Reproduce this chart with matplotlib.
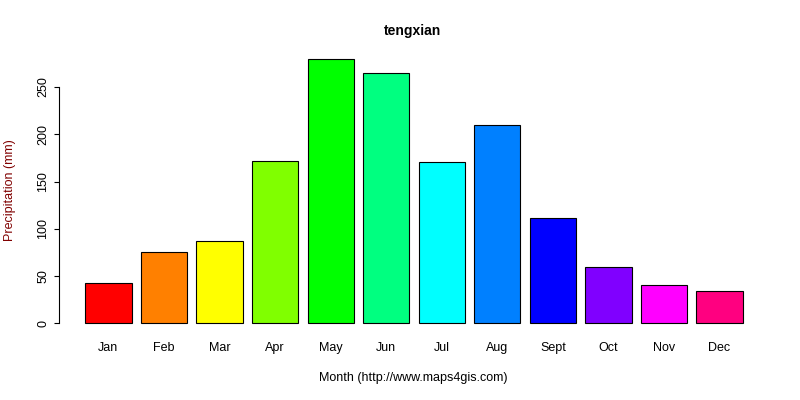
import matplotlib
matplotlib.use("Agg")
import matplotlib.pyplot as plt

plt.rcParams["font.family"] = ["Liberation Sans", "DejaVu Sans"]

months = ["Jan", "Feb", "Mar", "Apr", "May", "Jun", "Jul", "Aug", "Sept", "Oct", "Nov", "Dec"]
precip = [43, 75, 87, 172, 280, 265, 171, 210, 111, 60, 41, 34]
colors = ["#FF0000", "#FF8000", "#FFFF00", "#80FF00", "#00FF00", "#00FF80",
          "#00FFFF", "#0080FF", "#0000FF", "#8000FF", "#FF00FF", "#FF0080"]

W, H = 800, 400
fig = plt.figure(figsize=(8, 4), dpi=100)
ax = fig.add_axes([59 / W, 1 - 334 / H, (769 - 59) / W, (334 - 48) / H])

xs = [0.7 + 1.2 * i for i in range(len(months))]
ax.bar(xs, precip, width=1.0, color=colors, edgecolor="black", linewidth=0.8)

ax.set_xlim(-0.368, 14.968)
ax.set_ylim(-11.2, 291.2)
for s in ["top", "right", "bottom"]:
    ax.spines[s].set_visible(False)
ax.spines["left"].set_bounds(0, 250)
ax.set_yticks([0, 50, 100, 150, 200, 250])
ax.set_yticklabels(["0", "50", "100", "150", "200", "250"], rotation=90, va="center", fontsize=9)
ax.set_xticks(xs)
ax.set_xticklabels(months, fontsize=9)
ax.tick_params(axis="x", length=0, pad=6)

fig.text(413 / W, 1 - 31 / H, "tengxian", ha="center", va="center", fontsize=10, fontweight="bold")
fig.text(413 / W, 1 - 378 / H, "Month (http://www.maps4gis.com)", ha="center", va="center", fontsize=9)
fig.text(10 / W, 1 - 190 / H, "Precipitation (mm)", ha="center", va="center", rotation=90,
         fontsize=9, color="#800000")

fig.savefig("out.png", dpi=100)
